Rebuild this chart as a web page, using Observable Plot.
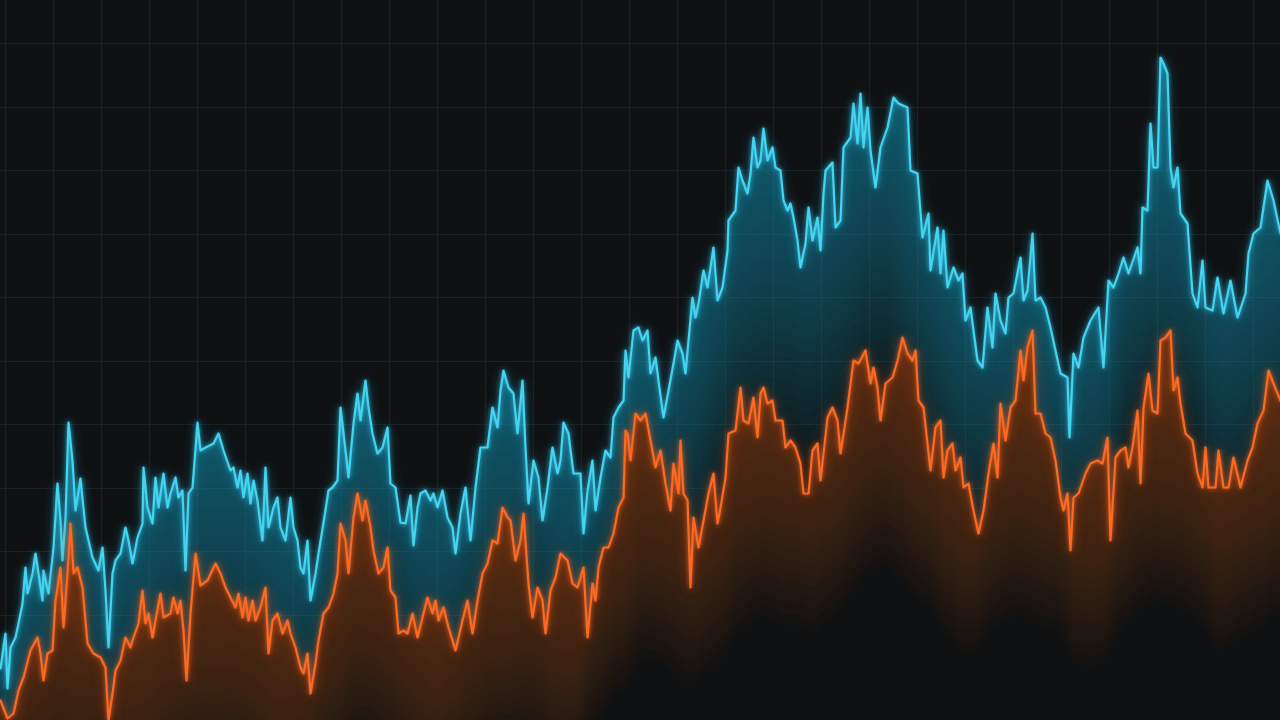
<!DOCTYPE html>
<html>
<head>
<meta charset="utf-8">
<script src="https://cdn.jsdelivr.net/npm/d3@7"></script>
<script src="https://cdn.jsdelivr.net/npm/@observablehq/plot@0.6"></script>
<style>
html,body{margin:0;padding:0;background:#0f1011;overflow:hidden}
#chart svg{display:block;overflow:hidden}
</style>
</head>
<body>
<div id="chart"></div>
<script>
// Series A (cyan): trading day index and value
const cyanDays = [0,5,7,10,15,18,22,25,27,32,35,38,42,43,48,53,57,60,62,65,68,72,75,80,85,92,98,102,105,108,112,115,120,125,128,132,137,142,143,147,152,155,158,163,167,170,175,178,182,185,188,192,197,200,205,213,218,223,230,233,237,240,243,247,250,253,257,262,265,268,273,277,280,285,290,293,297,300,303,307,310,315,318,323,328,332,337,340,345,348,353,357,360,365,368,372,377,382,387,390,395,400,405,410,413,417,420,425,430,433,437,442,447,452,455,460,465,470,475,480,487,492,497,500,503,508,513,517,522,525,528,533,538,542,547,552,557,560,563,568,573,580,583,587,592,595,600,605,610,613,618,623,625,628,633,638,642,647,650,655,658,663,668,673,677,682,685,688,692,695,698,703,707,710,713,717,722,727,728,735,738,742,747,750,753,757,760,763,767,772,775,780,783,787,790,793,797,800,805,808,812,817,820,823,825,832,835,840,843,850,853,857,860,863,867,870,875,880,887,893,898,907,910,917,922,928,930,937,940,943,947,953,958,962,965,970,977,982,987,992,995,1000,1005,1008,1013,1020,1023,1027,1032,1035,1040,1045,1050,1055,1060,1067,1069,1073,1078,1083,1090,1098,1103,1108,1113,1118,1123,1128,1137,1140,1142,1147,1150,1153,1157,1160,1163,1167,1170,1173,1177,1180,1187,1192,1197,1202,1205,1212,1217,1223,1230,1237,1245,1248,1253,1260,1267,1273,1280];
const cyanValues = [52,87,32,73,83,97,117,153,127,147,167,147,120,150,127,173,237,200,160,203,298,260,210,242,193,163,150,173,130,73,147,160,167,193,180,157,183,197,253,213,197,243,213,247,213,227,243,223,230,150,227,233,298,270,273,277,287,270,250,253,233,250,223,247,217,240,220,180,253,193,213,223,193,180,223,193,180,153,147,180,120,147,167,198,230,233,240,313,270,243,297,327,300,340,313,287,267,273,293,237,233,198,197,225,175,213,227,230,220,227,213,230,203,193,167,207,233,180,233,273,273,313,293,330,350,333,327,287,340,273,217,260,243,200,233,273,247,260,298,287,247,247,187,230,260,210,243,270,263,303,313,320,370,343,390,393,380,390,347,363,340,303,330,357,380,367,347,380,423,403,417,450,433,453,473,420,433,470,500,510,553,540,527,547,583,553,560,592,560,573,553,550,520,510,517,503,480,453,477,513,480,503,470,527,550,558,493,500,573,583,617,577,627,573,613,570,533,573,593,623,617,613,550,547,483,507,450,493,447,490,433,453,440,447,400,413,360,353,413,373,427,400,387,423,427,463,420,430,487,420,423,413,393,370,347,343,283,367,353,383,400,413,353,440,433,447,463,447,473,447,513,510,597,553,553,663,657,647,553,533,553,507,497,427,413,460,413,410,443,407,440,403,427,467,487,493,540,520,487];

// Series B (orange): trading day index and value
const orangeDays = [0,7,13,18,23,30,37,40,43,47,52,55,60,63,67,70,73,77,82,87,93,100,105,108,112,115,120,125,130,133,138,142,145,148,152,155,160,163,170,173,177,180,183,186,190,195,200,207,215,220,225,230,235,238,242,245,248,252,255,260,265,268,272,277,282,287,290,295,300,303,307,310,315,318,323,328,333,337,340,345,348,353,357,362,365,370,373,378,383,387,390,395,398,403,407,412,417,422,427,432,435,438,443,448,455,462,467,472,477,482,487,492,497,502,507,510,515,520,523,528,532,537,542,545,550,555,560,567,572,577,583,587,592,595,598,603,608,613,618,623,625,627,630,635,640,645,650,655,660,665,670,673,678,680,683,687,690,693,698,703,708,713,717,720,725,728,735,740,743,748,753,757,760,763,767,772,775,782,785,790,795,800,803,808,812,817,820,827,832,837,840,847,853,858,865,870,873,877,880,885,892,897,902,907,912,915,918,923,927,930,935,940,943,947,952,955,960,963,968,973,978,983,988,993,997,1000,1005,1010,1015,1020,1023,1027,1032,1035,1040,1045,1050,1055,1060,1063,1067,1070,1073,1078,1085,1090,1097,1102,1107,1110,1115,1120,1125,1128,1132,1137,1140,1143,1148,1152,1157,1160,1165,1170,1173,1177,1180,1185,1192,1197,1202,1205,1208,1215,1218,1223,1228,1233,1240,1247,1252,1257,1263,1268,1273,1280];
const orangeValues = [20,2,7,30,43,70,83,67,40,67,70,120,153,93,147,197,147,153,133,77,67,63,53,0,27,50,60,83,73,83,97,130,97,107,83,100,127,103,107,123,107,120,90,40,107,167,135,140,157,147,133,123,113,127,103,123,100,120,100,113,133,67,100,107,87,100,87,73,53,47,67,27,57,80,107,113,127,147,197,180,147,203,227,200,220,193,170,147,153,173,130,123,87,90,87,107,83,103,123,107,120,100,113,93,70,100,120,87,120,147,157,180,177,213,203,200,160,180,207,137,103,133,120,87,130,143,167,160,137,133,153,83,137,120,153,173,173,187,213,223,290,287,260,307,300,307,280,253,270,237,210,257,227,280,227,220,133,203,173,200,227,247,197,213,243,287,290,333,300,297,323,283,327,333,317,320,300,300,273,280,273,257,227,227,270,277,240,303,313,300,267,313,360,357,370,337,353,333,300,337,343,360,383,367,360,370,320,313,277,250,293,300,243,270,277,250,263,233,237,210,187,210,247,277,243,317,280,313,320,370,340,373,390,307,307,287,283,260,223,210,227,170,223,227,247,257,260,257,283,180,263,270,273,253,273,310,237,313,347,310,307,380,383,390,330,343,317,287,280,247,233,273,233,233,270,233,233,263,233,260,273,297,310,350,337,320];

// Faint background grid positions
const gridDays = [5,53,101,149,197,245,293,341,389,437,485,533,581,629,677,725,773,821,869,917,965,1013,1061,1109,1157,1205,1253];
const gridLevels = [677,613,550,486,423,359,296,232,169,105,42];

function build(days, values, halfWindow) {
  const rows = days.map((d, i) => ({day: d, value: values[i]}));
  // rolling mean (by day distance) used to shape the soft fill under each line
  for (const r of rows) {
    const near = rows.filter(o => Math.abs(o.day - r.day) <= halfWindow);
    r.smooth = d3.mean(near, o => o.value);
  }
  return rows;
}
const cyan = build(cyanDays, cyanValues, 40);
const orange = build(orangeDays, orangeValues, 40);

const BG = "#0f1011";

function glowLayers(rows, {count, step, lift, fill, opacity}) {
  return d3.range(count).map(k => Plot.areaY(rows, {
    x: "day",
    y1: d => Math.max(0, Math.min(d.value, d.smooth + lift - (k + 1) * step)),
    y2: "value",
    fill,
    fillOpacity: opacity
  }));
}

const plot = Plot.plot({
  width: 1280,
  height: 720,
  margin: 0,
  style: {background: BG},
  x: {domain: [0, 1280], axis: null},
  y: {domain: [0, 720], axis: null},
  marks: [
    Plot.ruleX(gridDays, {stroke: "#162124", strokeWidth: 1.2}),
    Plot.ruleY(gridLevels, {stroke: "#162124", strokeWidth: 1.2}),
    ...glowLayers(cyan, {count: 26, step: 12, lift: 40, fill: "#2392b4", opacity: 0.036}),
    Plot.areaY(orange, {x: "day", y1: 0, y2: "value", fill: BG}),
    ...glowLayers(orange, {count: 20, step: 11, lift: 30, fill: "#a24d22", opacity: 0.036}),
    Plot.line(cyan, {x: "day", y: "value", stroke: "#45d4f0", strokeWidth: 2.2, strokeLinejoin: "round"}),
    Plot.line(orange, {x: "day", y: "value", stroke: "#fb6a22", strokeWidth: 2.2, strokeLinejoin: "round"})
  ]
});

document.getElementById("chart").appendChild(plot);
const lines = d3.select(plot).selectAll("g[aria-label=line]").nodes();
if (lines[0]) lines[0].style.filter = "drop-shadow(0 0 2px rgba(60,210,245,0.8)) drop-shadow(0 0 6px rgba(30,170,220,0.45))";
if (lines[1]) lines[1].style.filter = "drop-shadow(0 0 2px rgba(255,110,40,0.8)) drop-shadow(0 0 6px rgba(230,80,20,0.45))";
</script>
</body>
</html>
